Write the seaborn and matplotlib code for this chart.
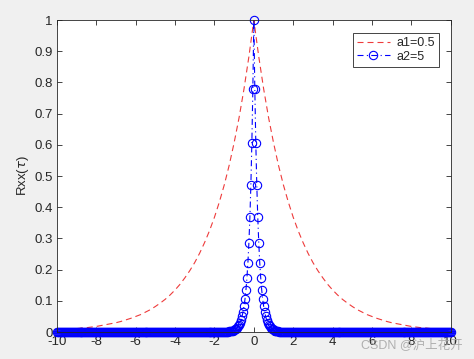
import numpy as np
import pandas as pd
import matplotlib
matplotlib.use("Agg")
import matplotlib.pyplot as plt
import seaborn as sns

# sample grid (tau)
tau_red = np.linspace(-10, 10, 81)      # step 0.25
tau_blue = np.linspace(-10, 10, 401)    # step 0.05

# a1 = 0.5 curve values, tau = -10 ... 10 step 0.25
red_vals = [0.007, 0.008, 0.009, 0.010, 0.011, 0.013, 0.014, 0.016, 0.018, 0.021,
            0.024, 0.027, 0.030, 0.034, 0.039, 0.044, 0.050, 0.056, 0.064, 0.072,
            0.082, 0.093, 0.105, 0.119, 0.135, 0.153, 0.174, 0.197, 0.223, 0.253,
            0.287, 0.325, 0.368, 0.417, 0.472, 0.535, 0.607, 0.687, 0.779, 0.883,
            1.000,
            0.883, 0.779, 0.687, 0.607, 0.535, 0.472, 0.417, 0.368, 0.325, 0.287,
            0.253, 0.223, 0.197, 0.174, 0.153, 0.135, 0.119, 0.105, 0.093, 0.082,
            0.072, 0.064, 0.056, 0.050, 0.044, 0.039, 0.034, 0.030, 0.027, 0.024,
            0.021, 0.018, 0.016, 0.014, 0.013, 0.011, 0.010, 0.009, 0.008, 0.007]

# a2 = 5 curve values, tau = -2 ... 2 step 0.05 (zero outside)
blue_center = [0.000, 0.000, 0.000, 0.000, 0.000, 0.000, 0.000, 0.000, 0.000, 0.000,
               0.000, 0.001, 0.001, 0.001, 0.001, 0.002, 0.002, 0.003, 0.004, 0.005,
               0.007, 0.009, 0.011, 0.014, 0.018, 0.024, 0.030, 0.039, 0.050, 0.064,
               0.082, 0.105, 0.135, 0.174, 0.223, 0.287, 0.368, 0.472, 0.607, 0.779,
               1.000,
               0.779, 0.607, 0.472, 0.368, 0.287, 0.223, 0.174, 0.135, 0.105, 0.082,
               0.064, 0.050, 0.039, 0.030, 0.024, 0.018, 0.014, 0.011, 0.009, 0.007,
               0.005, 0.004, 0.003, 0.002, 0.002, 0.001, 0.001, 0.001, 0.001, 0.000,
               0.000, 0.000, 0.000, 0.000, 0.000, 0.000, 0.000, 0.000, 0.000, 0.000]
blue_vals = [0.0] * 160 + blue_center + [0.0] * 160

xticks = [-10, -8, -6, -4, -2, 0, 2, 4, 6, 8, 10]
yticks = [0, 0.1, 0.2, 0.3, 0.4, 0.5, 0.6, 0.7, 0.8, 0.9, 1]
ytick_labels = ["0", "0.1", "0.2", "0.3", "0.4", "0.5", "0.6", "0.7", "0.8", "0.9", "1"]

df_red = pd.DataFrame({"tau": tau_red, "R": red_vals})
df_blue = pd.DataFrame({"tau": tau_blue, "R": blue_vals})

sns.set_style("ticks")
plt.rcParams["font.family"] = ["Liberation Sans", "Noto Sans CJK SC", "DejaVu Sans"]

fig = plt.figure(figsize=(4.74, 3.59), dpi=100, facecolor="#f0f0f0")
ax = fig.add_axes([0.120, 0.075, 0.831, 0.869])
ax.set_facecolor("white")

sns.lineplot(data=df_red, x="tau", y="R", ax=ax, color="#ee3b3b",
             linewidth=0.8, dashes=(5.4, 3.6), label="a1=0.5")
sns.lineplot(data=df_blue, x="tau", y="R", ax=ax, color="#0000ff",
             linewidth=0.8, dashes=(5.4, 3.0, 1.0, 3.0), marker="o", markersize=6,
             markerfacecolor="none", markeredgecolor="#0000ff", markeredgewidth=0.8,
             label="a2=5", clip_on=False)

ax.set_xlim(-10, 10)
ax.set_ylim(0, 1)
ax.set_xticks(xticks)
ax.set_xticklabels([str(t) for t in xticks])
ax.set_yticks(yticks)
ax.set_yticklabels(ytick_labels)
ax.set_xlabel("")
ax.set_ylabel(r"Rxx($\tau$)", fontsize=9.5, color="#262626", labelpad=2)
ax.tick_params(direction="in", length=3.5, width=0.6, top=True, right=True,
               labelsize=9.5, colors="#262626", pad=3)
for sp in ax.spines.values():
    sp.set_visible(True)
    sp.set_linewidth(0.6)
    sp.set_color("#262626")

leg = ax.legend(loc="upper right", bbox_to_anchor=(0.9695, 0.958), borderaxespad=0,
                fontsize=9, frameon=True, fancybox=False, framealpha=1,
                edgecolor="#262626", handlelength=2.7, borderpad=0.3,
                labelspacing=0.15, handletextpad=0.5)
leg.get_frame().set_linewidth(0.6)

fig.text(0.975, 0.022, "CSDN @沪上花开", ha="right", va="bottom", fontsize=9,
         color="#a8a8a8", alpha=0.9)

fig.savefig("out.png", dpi=100, facecolor=fig.get_facecolor())
